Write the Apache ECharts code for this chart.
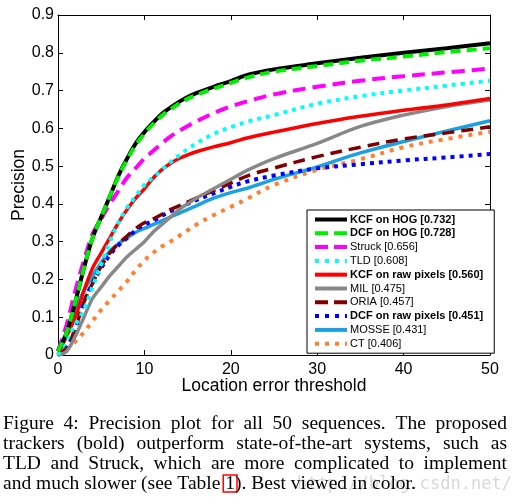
<!DOCTYPE html>
<html>
<head>
<meta charset="utf-8">
<script src="https://cdn.jsdelivr.net/npm/echarts@6/dist/echarts.min.js"></script>
<style>
html,body{margin:0;padding:0;background:#fff;}
#chart{width:522px;height:502px;}
</style>
</head>
<body>
<div id="chart"></div>
<script>
// ---- data ----
const thresholds = [0,1,2,3,4,5,6,7,8,9,10,11,12,13,14,15,16,18,20,22,25,30,35,40,45,50];
const kcfHog   = [0.01,0.06,0.14,0.23,0.31,0.365,0.42,0.475,0.52,0.56,0.59,0.615,0.638,0.655,0.67,0.683,0.693,0.71,0.725,0.742,0.756,0.772,0.787,0.80,0.812,0.825];
const dcfHog   = [0.01,0.06,0.14,0.23,0.31,0.365,0.42,0.473,0.517,0.556,0.586,0.611,0.633,0.65,0.665,0.678,0.688,0.705,0.72,0.735,0.75,0.765,0.779,0.79,0.802,0.812];
const struck   = [0.01,0.08,0.17,0.25,0.32,0.36,0.40,0.435,0.47,0.495,0.52,0.54,0.56,0.578,0.593,0.606,0.618,0.64,0.658,0.672,0.69,0.71,0.726,0.738,0.748,0.758];
const tld      = [0.0,0.04,0.08,0.12,0.18,0.24,0.30,0.35,0.39,0.42,0.45,0.47,0.49,0.51,0.528,0.545,0.56,0.585,0.603,0.618,0.635,0.665,0.685,0.70,0.713,0.726];
const kcfRaw   = [0.0,0.05,0.10,0.17,0.23,0.27,0.31,0.35,0.385,0.415,0.44,0.468,0.49,0.507,0.52,0.53,0.538,0.551,0.562,0.575,0.59,0.613,0.632,0.648,0.662,0.679];
const mil      = [0.0,0.01,0.05,0.10,0.15,0.18,0.21,0.235,0.26,0.28,0.30,0.325,0.345,0.365,0.385,0.40,0.415,0.44,0.465,0.49,0.52,0.56,0.605,0.635,0.658,0.675];
const oria     = [0.0,0.02,0.07,0.14,0.19,0.235,0.27,0.295,0.315,0.335,0.35,0.36,0.372,0.385,0.395,0.405,0.415,0.435,0.455,0.475,0.495,0.525,0.55,0.572,0.588,0.604];
const dcfRaw   = [0.0,0.02,0.07,0.14,0.19,0.23,0.265,0.29,0.31,0.33,0.345,0.355,0.368,0.38,0.39,0.40,0.41,0.428,0.445,0.46,0.475,0.494,0.505,0.515,0.523,0.532];
const mosse    = [0.01,0.06,0.12,0.17,0.21,0.245,0.275,0.295,0.31,0.325,0.335,0.345,0.355,0.365,0.375,0.385,0.395,0.415,0.43,0.442,0.465,0.498,0.535,0.565,0.593,0.62];
const ct       = [0.0,0.015,0.035,0.06,0.09,0.12,0.145,0.17,0.195,0.225,0.25,0.27,0.287,0.30,0.315,0.33,0.345,0.37,0.392,0.415,0.45,0.49,0.518,0.55,0.572,0.591];
const xTicks = [0,10,20,30,40,50];
const yTicks = ['0','0.1','0.2','0.3','0.4','0.5','0.6','0.7','0.8','0.9'];

const seriesNames = ['KCF on HOG [0.732]','DCF on HOG [0.728]','Struck [0.656]','TLD [0.608]','KCF on raw pixels [0.560]','MIL [0.475]','ORIA [0.457]','DCF on raw pixels [0.451]','MOSSE [0.431]','CT [0.406]'];
const seriesData = [kcfHog,dcfHog,struck,tld,kcfRaw,mil,oria,dcfRaw,mosse,ct];
const boldNames = [true,true,false,false,true,false,false,true,false,false];

const captionLines = [
  'Figure 4: Precision plot for all 50 sequences. The proposed',
  'trackers (bold) outperform state-of-the-art systems, such as',
  'TLD and Struck, which are more complicated to implement'
];
const captionLast = ['and much slower (see Table ', '1', '). Best viewed in color.'];

// ---- styles ----
const styles = [
  {color:'#000000', width:4, type:'solid'},
  {color:'#00ee00', width:4, type:[10,6]},
  {color:'#ff00ff', width:4, type:[13,7]},
  {color:'#00ffff', width:4, type:[4,5]},
  {color:'#ff0000', width:3.5, type:'solid'},
  {color:'#888888', width:3.5, type:'solid'},
  {color:'#7f0000', width:3.5, type:[12,7]},
  {color:'#0000ff', width:4, type:[4,5]},
  {color:'#1ba1e2', width:3.5, type:'solid'},
  {color:'#ff8033', width:4, type:[4,6]}
];
const legendDash = ['solid',[13,6],[13,6],[4,6],'solid','solid',[13,6],[4,6],'solid',[4,6]];

const chart = echarts.init(document.getElementById('chart'), null, {renderer:'canvas'});

const series = seriesNames.map((n,i)=>({
  name:n, type:'line', smooth:0.35, symbol:'none', showSymbol:false,
  data: thresholds.map((t,j)=>[t, seriesData[i][j]]),
  lineStyle:{color:styles[i].color, width:styles[i].width, type:styles[i].type, cap:'butt'},
  itemStyle:{color:styles[i].color},
  z: 10 - i,
  animation:false
}));
series[0].z = 9; series[1].z = 10;

// caption (justified) via canvas measuring
const capFont = '19.5px "Liberation Serif", "DejaVu Serif", serif';
const mctx = document.createElement('canvas').getContext('2d');
mctx.font = capFont;
const capLeft = 3, capRight = 507, capTop0 = 414, capStep = 20;
const graphics = [];
captionLines.forEach((line, li)=>{
  const words = line.split(' ');
  const widths = words.map(w=>mctx.measureText(w).width);
  const total = widths.reduce((a,b)=>a+b,0);
  const gap = (capRight - capLeft - total)/(words.length-1);
  let x = capLeft;
  words.forEach((w,wi)=>{
    graphics.push({type:'text', left:Math.round(x*10)/10, top:capTop0 + li*capStep, style:{text:w, font:capFont, fill:'#000'}});
    x += widths[wi] + gap;
  });
});
{
  let x = capLeft;
  const y = capTop0 + 3*capStep;
  graphics.push({type:'text', left:297, top:y+2, style:{text:'http://blog.csdn.net/', font:'17px "DejaVu Sans Mono", monospace', fill:'#d8d8d8'}});
  captionLast.forEach((seg,si)=>{
    const w = mctx.measureText(seg).width;
    graphics.push({type:'text', left:x, top:y, style:{text:seg, font:capFont, fill:'#000'}});
    if (si===1) {
      graphics.push({type:'rect', shape:{x:x-2, y:y+1, width:w+4, height:17}, style:{fill:'none', stroke:'#ff0000', lineWidth:1.5}});
    }
    x += w;
  });
}

const axisFont = {fontFamily:'"Liberation Sans", Arial, sans-serif', fontSize:16, color:'#000'};
const nameFont = {fontFamily:'"Liberation Sans", Arial, sans-serif', fontSize:17.5, color:'#000'};

const option = {
  animation:false,
  backgroundColor:'#ffffff',
  grid:{left:58, right:32, top:15, bottom:147, containLabel:false, outerBoundsMode:'none'},
  xAxis:[
    {type:'value', min:0, max:50, interval:10, position:'bottom',
     axisLine:{show:true, onZero:false, lineStyle:{color:'#000', width:1}},
     axisTick:{show:true, inside:true, length:5, lineStyle:{color:'#000'}},
     splitLine:{show:false},
     axisLabel:Object.assign({margin:7, formatter:(v)=>String(v)}, axisFont),
     name:'Location error threshold', nameLocation:'middle', nameGap:22, nameMoveOverlap:false,
     nameTextStyle:nameFont},
    {type:'value', min:0, max:50, interval:10, position:'top',
     axisLine:{show:true, onZero:false, lineStyle:{color:'#000', width:1}},
     axisTick:{show:true, inside:true, length:5, lineStyle:{color:'#000'}},
     splitLine:{show:false}, axisLabel:{show:false}}
  ],
  yAxis:[
    {type:'value', min:0, max:0.9, interval:0.1, position:'left',
     axisLine:{show:true, onZero:false, lineStyle:{color:'#000', width:1}},
     axisTick:{show:true, inside:true, length:5, lineStyle:{color:'#000'}},
     splitLine:{show:false},
     axisLabel:Object.assign({margin:4, formatter:(v)=>yTicks[Math.round(v*10)]}, axisFont),
     name:'Precision', nameLocation:'middle', nameGap:30, nameRotate:90, nameMoveOverlap:false,
     nameTextStyle:nameFont},
    {type:'value', min:0, max:0.9, interval:0.1, position:'right',
     axisLine:{show:true, onZero:false, lineStyle:{color:'#000', width:1}},
     axisTick:{show:true, inside:true, length:5, lineStyle:{color:'#000'}},
     splitLine:{show:false}, axisLabel:{show:false}}
  ],
  legend:{
    orient:'vertical', left:307, top:210,
    backgroundColor:'#ffffff', borderColor:'#000', borderWidth:1,
    padding:[4,11,4,6], itemGap:2.8, itemWidth:32, itemHeight:11,
    itemStyle:{opacity:0},
    lineStyle:{width:4, cap:'butt'},
    textStyle:{fontFamily:'"Liberation Sans", Arial, sans-serif', fontSize:11, color:'#000', padding:[0,0,0,-2]},
    data: seriesNames.map((n,i)=>({name:n, textStyle:{fontWeight: boldNames[i]?'bold':'normal'}, lineStyle:{type:legendDash[i], width:4}})),
    selectedMode:false
  },
  graphic: graphics,
  series: series
};
chart.setOption(option);
</script>
</body>
</html>
